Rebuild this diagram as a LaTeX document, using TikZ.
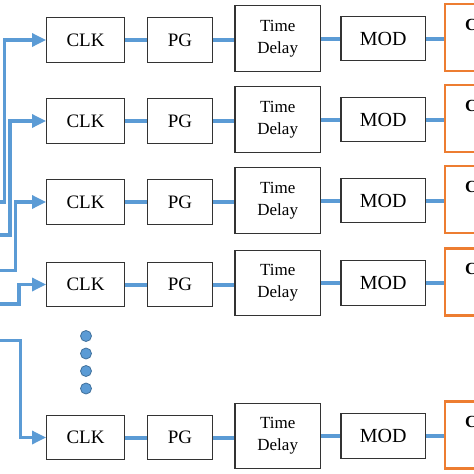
\documentclass[tikz,border=0pt]{standalone}
\usepackage{fontspec}
\setmainfont{Liberation Serif}
\usetikzlibrary{arrows.meta}
\definecolor{lblue}{HTML}{5B9BD5}
\definecolor{dblue}{HTML}{41719C}
\definecolor{lorange}{HTML}{ED7D31}
\begin{document}
\begin{tikzpicture}[x=1pt,y=-1pt,
  blk/.style={draw=black!80, line width=1.3pt, minimum height=44.5pt, inner sep=0pt, fill=white, font=\fontsize{19}{21}\selectfont},
  tdblk/.style={blk, minimum width=85.3pt, minimum height=65.6pt, align=center, font=\fontsize{17}{22}\selectfont},
  outblk/.style={draw=lorange, line width=2.6pt, minimum width=60pt, minimum height=67pt, inner sep=0pt},
  conn/.style={draw=lblue, line width=4pt},
  feed/.style={draw=lblue, line width=3.2pt, -{Triangle[length=14pt,width=13pt]}},
  outtxt/.style={anchor=base west, inner sep=0pt, font=\fontsize{17}{20}\selectfont\bfseries},
  dot/.style={circle, fill=lblue, draw=dblue, line width=0.8pt, minimum size=11pt, inner sep=0pt}]
\useasboundingbox (0,0) rectangle (474,474);
\clip (0,0) rectangle (474,474);
\fill[white] (0,0) rectangle (474,474);
\foreach \i/\y in {1/40,2/121,3/202,4/284.5,5/437.5}{
  \node[blk, minimum width=77.6pt] (clk\i) at (85.5,\y) {CLK};
  \node[blk, minimum width=65.4pt] (pg\i) at (180,\y) {PG};
  \node[tdblk] (td\i) at (277.7,\y-1.5) {Time\\Delay};
  \node[blk, minimum width=84.7pt, font=\fontsize{20}{22}\selectfont] (mod\i) at (383.3,\y-1.5) {MOD};
  \node[outblk] (out\i) at (475,\y-2.5) {};
  \node[outtxt] (c\i) at (465,\y-10) {C};
  \draw[conn] (clk\i) -- (pg\i);
  \draw[conn] (pg\i.east) -- (td\i.west |- pg\i.east);
  \draw[conn] (td\i.east |- mod\i.west) -- (mod\i.west);
  \draw[conn] (mod\i.east) -- (out\i.west |- mod\i.east);
}
\foreach \i/\ys/\xv in {1/202/4.3,2/235/10,3/270.5/15.5,4/304/19,5/340.7/20.7}{
  \coordinate (s\i) at (0,\ys);
  \draw[feed] (s\i) -- (\xv,\ys) |- (clk\i.west);
}
\foreach \i/\y in {1/336,2/353.5,3/371,4/388.5}{
  \node[dot] (d\i) at (86,\y) {};
}
\end{tikzpicture}
\end{document}
